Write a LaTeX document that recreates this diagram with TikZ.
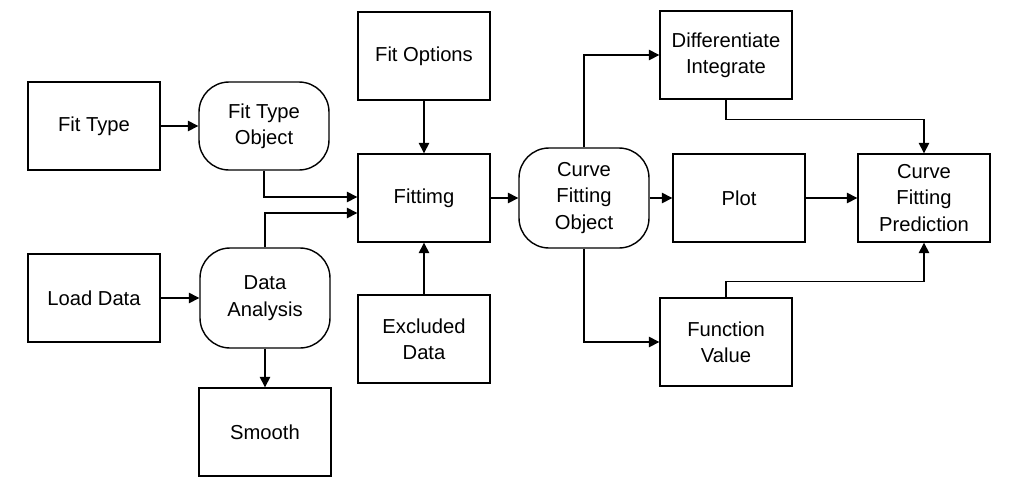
\documentclass[tikz,border=0pt]{standalone}
\usepackage{fontspec}
\setmainfont{Liberation Sans}
\usetikzlibrary{arrows.meta}

\begin{document}
\begin{tikzpicture}[x=0.02cm,y=-0.02cm,
  box/.style={draw, line width=0.8pt, minimum width=2.64cm, minimum height=1.76cm, align=center, font=\fontsize{11.5}{15}\selectfont},
  obj/.style={box, rounded corners=0.6cm, minimum height=2cm, minimum width=2.6cm},
  link/.style={-{Triangle[length=6pt,width=6pt]}, line width=0.8pt}]
 \useasboundingbox (0,0) rectangle (1011,488);
 \node[box] (ft)   at (94,126)  {Fit Type};
 \node[obj, minimum height=1.76cm] (fto)  at (264,126) {Fit Type\\Object};
 \node[box] (ld)   at (94,298)  {Load Data};
 \node[obj] (da)   at (265,298) {Data\\Analysis};
 \node[box] (sm)   at (265,432) {Smooth};
 \node[box] (fo)   at (424,56)  {Fit Options};
 \node[box] (fit)  at (424,198) {Fittimg};
 \node[box] (ex)   at (424,339) {Excluded\\Data};
 \node[obj] (cfo)  at (584,198) {Curve\\Fitting\\Object};
 \node[box] (di)   at (726,55)  {Differentiate\\Integrate};
 \node[box] (plot) at (739,198) {Plot};
 \node[box] (fv)   at (726,342) {Function\\Value};
 \node[box] (pred) at (924,198) {Curve\\Fitting\\Prediction};
 \coordinate (fitin1) at ([yshift=0.02cm]fit.west);
 \coordinate (fitin2) at ([yshift=-0.3cm]fit.west);
 \coordinate (predin1) at ([xshift=0cm]pred.north);
 \coordinate (predin2) at ([xshift=0cm]pred.south);

 \draw[link] (ft) -- (fto);
 \draw[link] (ld) -- (da);
 \draw[link] (da) -- (sm);
 \draw[link] (fto.south) |- (fitin1);
 \draw[link] (da.north) |- (fitin2);
 \draw[link] (fo) -- (fit);
 \draw[link] (ex) -- (fit);
 \draw[link] (fit) -- (cfo);
 \draw[link] (cfo.north) |- (di.west);
 \draw[link] (cfo) -- (plot);
 \draw[link] (cfo.south) |- (fv.west);
 \draw[link] (di.south) -- ++(0,20) -| (predin1);
 \draw[link] (plot) -- (pred);
 \draw[link] (fv.north) -- ++(0,-16) -| (predin2);
\end{tikzpicture}
\end{document}
